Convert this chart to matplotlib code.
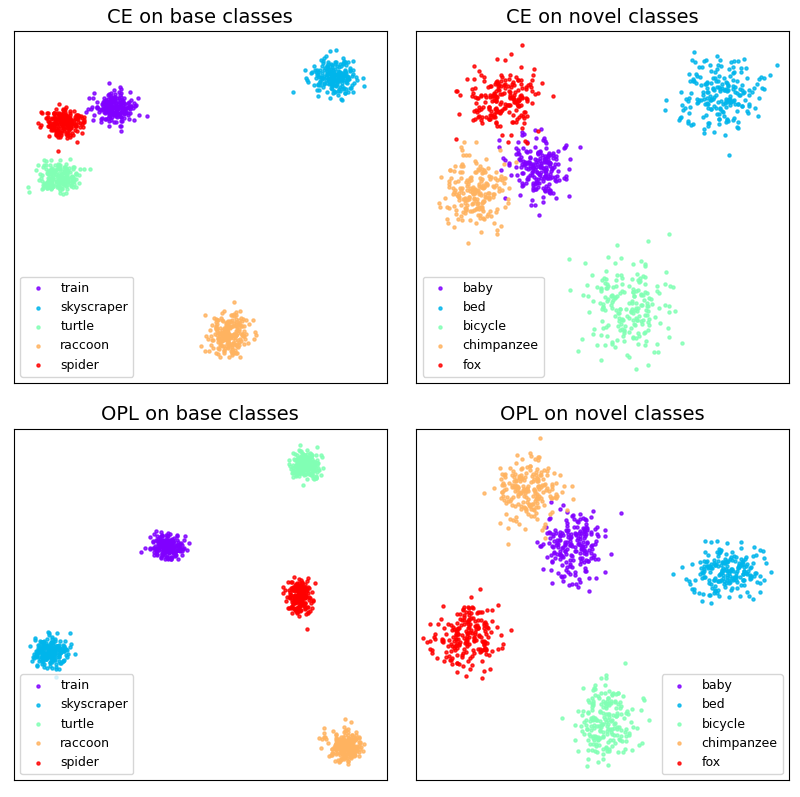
import numpy as np
import matplotlib.pyplot as plt

base_classes = ["train", "skyscraper", "turtle", "raccoon", "spider"]
novel_classes = ["baby", "bed", "bicycle", "chimpanzee", "fox"]

# cluster centres (x, y) and spreads (sx, sy), in pixel units
ce_base_centers = [(114, 107), (333, 77), (58, 177), (228, 333), (63, 123)]
ce_base_spread = [(10, 8), (12, 9), (10, 8), (11, 12), (9, 7)]

ce_novel_centers = [(537, 168), (722, 95), (627, 306), (477, 192), (505, 97)]
ce_novel_spread = [(15, 15), (20, 18), (20, 25), (16, 18), (18, 18)]

opl_base_centers = [(168, 547), (50, 652), (305, 465), (346, 745), (300, 597)]
opl_base_spread = [(8, 6), (9, 7), (7, 7), (9, 8), (6, 8)]

opl_novel_centers = [(573, 546), (727, 573), (604, 723), (530, 490), (466, 637)]
opl_novel_spread = [(14, 18), (18, 13), (15, 20), (15, 18), (17, 17)]

n_points = 200

panels = [
    ("CE on base classes", base_classes, ce_base_centers, ce_base_spread, (14, 387), (31, 382), "lower left"),
    ("CE on novel classes", novel_classes, ce_novel_centers, ce_novel_spread, (417, 789), (31, 382), "lower left"),
    ("OPL on base classes", base_classes, opl_base_centers, opl_base_spread, (14, 387), (429, 780), "lower left"),
    ("OPL on novel classes", novel_classes, opl_novel_centers, opl_novel_spread, (417, 789), (429, 780), "lower right"),
]

colors = plt.cm.rainbow(np.linspace(0, 1, 5))
rng = np.random.default_rng(3)

fig, axes = plt.subplots(2, 2, figsize=(8, 7.97), dpi=100)
fig.subplots_adjust(left=0.0175, right=0.986, top=0.961, bottom=0.021, wspace=0.08, hspace=0.13)

for ax, (title, labels, centers, spreads, xl, yl, loc) in zip(axes.flat, panels):
    for lab, c, (cx, cy), (sx, sy) in zip(labels, colors, centers, spreads):
        x = rng.normal(cx, sx, n_points)
        y = rng.normal(cy, sy, n_points)
        ax.scatter(x, y, s=5, color=c, alpha=0.8, label=lab)
    ax.set_xlim(*xl)
    ax.set_ylim(yl[1], yl[0])
    ax.set_xticks([])
    ax.set_yticks([])
    ax.set_title(title, fontsize=14)
    ax.legend(loc=loc, fontsize=9)

fig.savefig("out.png")
